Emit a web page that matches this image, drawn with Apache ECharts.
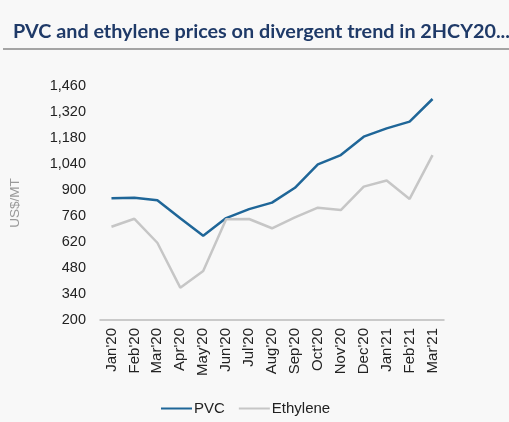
<!DOCTYPE html>
<html><head><meta charset="utf-8">
<script src="https://cdn.jsdelivr.net/npm/echarts@6/dist/echarts.min.js"></script>
<style>html,body{margin:0;padding:0;background:#f8f8f8;}#c{width:509px;height:422px;}</style>
</head><body><div id="c"></div>
<script>
const categories = ["Jan'20","Feb'20","Mar'20","Apr'20","May'20","Jun'20","Jul'20","Aug'20","Sep'20","Oct'20","Nov'20","Dec'20","Jan'21","Feb'21","Mar'21"];
const pvc = [855, 858, 845, 748, 654, 749, 797, 832, 912, 1038, 1088, 1187, 1232, 1268, 1390];
const ethylene = [702, 745, 616, 374, 464, 742, 744, 694, 753, 805, 792, 918, 951, 852, 1088];
const yTicks = [200, 340, 480, 620, 760, 900, 1040, 1180, 1320, 1460];
const chart = echarts.init(document.getElementById('c'), null, {renderer:'canvas'});
chart.setOption({
  backgroundColor:'#f8f8f8',
  animation:false,
  title:{text:'PVC and ethylene prices on divergent trend in 2HCY20...', left:8, top:17,
    textStyle:{color:'#1f3a68', fontSize:19.8, fontWeight:'bold', fontFamily:'Lato'}},
  graphic:[{type:'line', shape:{x1:3,y1:49,x2:509,y2:49}, style:{stroke:'#888', lineWidth:1.5}}],
  legend:{top:396, left:156, itemWidth:31, itemHeight:2, itemGap:14,
    textStyle:{fontSize:15, color:'#222', fontFamily:'Liberation Sans', padding:[0,0,0,-3]},
    data:[{name:'PVC', icon:'rect'},{name:'Ethylene', icon:'rect'}]},
  grid:{left:88, right:65, top:86, bottom:102},
  xAxis:{type:'category', data:categories, boundaryGap:true,
    axisLine:{lineStyle:{color:'#bbb', width:1.5}}, axisTick:{show:false},
    axisLabel:{rotate:90, fontSize:15, color:'#222', margin:8, interval:0, fontFamily:'Liberation Sans'}},
  yAxis:{type:'value', min:yTicks[0], max:yTicks[yTicks.length-1], interval:140,
    name:'US$/MT', nameLocation:'middle', nameGap:62, nameRotate:90,
    nameTextStyle:{color:'#999', fontSize:13.5, fontFamily:'Liberation Sans', padding:[0,0,16,0]},
    axisLine:{show:false}, axisTick:{show:false}, splitLine:{show:false},
    axisLabel:{fontSize:14.5, color:'#222', margin:14, fontFamily:'Liberation Sans',
      formatter:v=>v.toLocaleString('en-US')}},
  series:[
    {name:'PVC', type:'line', data:pvc, symbol:'none', lineStyle:{color:'#1f6698', width:2.5}, itemStyle:{color:'#1f6698'}},
    {name:'Ethylene', type:'line', data:ethylene, symbol:'none', lineStyle:{color:'#c6c6c6', width:2.5}, itemStyle:{color:'#c6c6c6'}}
  ]
});
</script></body></html>
